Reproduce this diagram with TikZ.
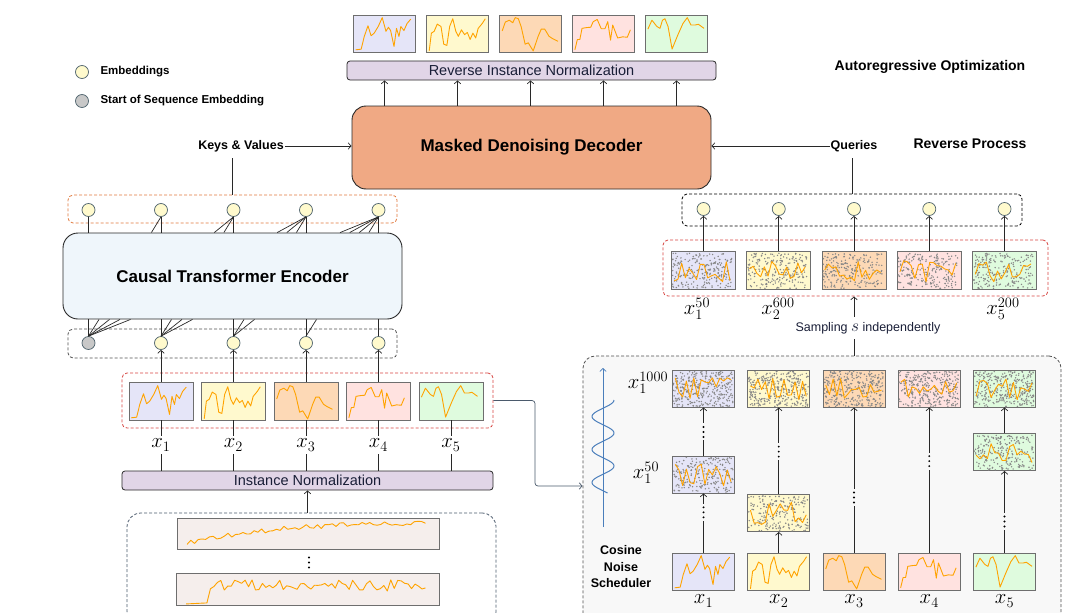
\documentclass[tikz,border=0pt]{standalone}
\usepackage{fontspec}
\setmainfont{Liberation Sans}
\usepackage{tikz}
\usetikzlibrary{arrows.meta, positioning, calc}
\usepackage{xcolor}
\definecolor{c1}{RGB}{229,229,248}
\definecolor{c2}{RGB}{255,249,206}
\definecolor{c3}{RGB}{253,217,182}
\definecolor{c4}{RGB}{255,226,224}
\definecolor{c5}{RGB}{223,251,222}
\definecolor{colarancio}{RGB}{255,163,0}
\definecolor{colarancioscuro}{RGB}{224,120,60}
\definecolor{colsalmone}{RGB}{240,169,132}
\definecolor{colcielo}{RGB}{239,246,251}
\definecolor{collilla}{RGB}{225,213,231}
\definecolor{colcrema}{RGB}{255,250,205}
\definecolor{colgrigio}{RGB}{200,200,200}
\definecolor{collinea}{RGB}{40,40,40}
\definecolor{colbordo}{RGB}{110,110,110}
\definecolor{colbordoemb}{RGB}{80,100,110}
\definecolor{colrosso}{RGB}{214,69,65}
\definecolor{colbluscuro}{RGB}{75,90,108}
\definecolor{colgrigioscuro}{RGB}{80,80,80}
\definecolor{colsfondo}{RGB}{248,248,248}
\definecolor{colblu}{RGB}{74,126,187}
\definecolor{colrosa}{RGB}{245,238,236}
\definecolor{colpunti}{RGB}{135,135,135}
\definecolor{coltesto}{RGB}{25,30,55}
% Serie (coordinate normalizzate 0..10)
\newcommand{\serieA}{(0.42,0.7) (1.3,0.87) (1.8,4.3) (2.4,7.2) (2.9,4.5) (3.4,5.2) (4.05,7.0) (4.7,9.4) (5.3,5.7) (5.7,6.8) (6.05,5.9) (6.6,1.6) (7.0,6.5) (7.4,4.3) (7.7,7.0) (8.2,5.9) (8.7,7.8) (9.3,9.0)}
\newcommand{\serieB}{(0.5,0.4) (0.85,5.2) (1.3,5.7) (1.8,7.65) (2.4,7.0) (2.85,2.2) (3.35,1.9) (3.8,7.0) (4.3,9.1) (4.8,5.65) (5.2,4.35) (5.7,6.1) (6.2,4.8) (6.65,5.4) (7.1,3.5) (7.55,5.2) (8.0,3.9) (8.4,6.5) (9.05,7.8) (9.55,9.1)}
\newcommand{\serieC}{(0.5,5.8) (1.0,8.2) (1.65,8.7) (2.2,8.0) (2.6,9.4) (3.1,9.1) (3.55,7.0) (4.2,2.2) (4.7,2.6) (5.5,0.4) (6.3,4.35) (6.8,6.3) (7.35,6.3) (8.05,4.35) (8.7,3.65) (9.5,3.0)}
\newcommand{\serieD}{(0.45,0.7) (0.85,3.5) (1.25,3.5) (1.6,6.5) (2.3,6.7) (3.0,6.8) (3.4,8.3) (4.05,8.9) (4.7,6.4) (5.3,6.4) (5.75,8.3) (6.2,3.3) (6.55,7.4) (7.35,3.9) (8.15,4.2) (8.9,4.1) (9.4,6.1)}
\newcommand{\serieE}{(0.45,6.3) (1.1,8.7) (1.9,7.0) (2.4,6.5) (2.8,8.7) (3.2,9.1) (3.7,7.0) (4.35,0.9) (5.3,4.8) (6.1,7.8) (6.8,9.4) (7.4,7.4) (8.05,7.4) (8.6,7.6) (9.5,6.5)}
\newcommand{\tsline}[2]{%
    \begin{scope}[shift={(#1.south west)}, x=6.2pt, y=3.7pt]
        \edef\tmpserie{\noexpand\draw[serie] plot coordinates {\csname serie#2\endcsname};}%
        \tmpserie
    \end{scope}}
\newcommand{\rumore}[2]{%
    \begin{scope}[shift={(#1.south west)}, x=6.2pt, y=3.7pt]
        \foreach \k in {1,...,#2}{
            \fill[colpunti] ({0.2+9.6*rnd},{0.25+9.5*rnd}) circle[radius=0.8pt];
        }
    \end{scope}}
\newcommand{\rumline}[1]{%
    \begin{scope}[shift={(#1.south west)}, x=6.2pt, y=3.7pt]
        \draw[serie] plot[samples=16, domain=0.5:9.5] (\x,{2+6*rnd});
    \end{scope}}

\begin{document}
\begin{tikzpicture}[x=1pt, y=-1pt,
    every node/.style={inner sep=0pt},
    box/.style={draw=colbordo, line width=0.8pt, minimum width=62pt, minimum height=37pt},
    emb/.style={circle, draw=colbordoemb, fill=colcrema, line width=0.7pt, minimum size=13pt},
    sos/.style={emb, fill=colgrigio},
    gruppo/.style={draw, dash pattern=on 3pt off 2pt, rounded corners=5pt, line width=0.8pt},
    barra/.style={draw=collinea, fill=collilla, rounded corners=3pt, line width=0.8pt, text=coltesto, font=\fontsize{14.5}{16}\selectfont},
    blocco/.style={draw=collinea, line width=0.9pt, font=\fontsize{17}{20}\selectfont\bfseries},
    filo/.style={draw=collinea, line width=0.7pt},
    freccia/.style={filo, -{Straight Barb[length=3pt, width=6.5pt]}},
    serie/.style={draw=colarancio, line width=0.9pt, line join=round},
    lab/.style={font=\fontsize{20}{24}\selectfont, inner ysep=3pt},
    testob/.style={font=\fontsize{12.5}{14}\selectfont\bfseries},
    titolo/.style={font=\fontsize{14}{16}\selectfont\bfseries},
    puntini/.style={minimum width=5pt, minimum height=17pt, fill=colsfondo,
        path picture={\foreach \d in {-5,0,5}{\fill[black] (path picture bounding box.center) ++(0,\d) circle[radius=1.1pt];}}}
]
    \pgfmathsetseed{42}
    \useasboundingbox (0,0) rectangle (1079,613);
    % Legenda
    \node[emb] (le) at (82,72) {};
    \node[right=11.5pt of le, font=\fontsize{11.5}{13}\selectfont\bfseries] (lte) {Embeddings};
    \node[sos] (ls) at (82,101) {};
    \node[right=11.5pt of ls, font=\fontsize{11.5}{13}\selectfont\bfseries] (lts) {Start of Sequence Embedding};
    % Decoder
    \node[blocco, fill=colsalmone, rounded corners=14pt, minimum width=359pt, minimum height=83pt] (dec) at (531.5,147.5) {Masked Denoising Decoder};
    \node[barra, minimum width=369pt, minimum height=19pt] (rin) at (531.5,70.5) {Reverse Instance Normalization};
    \foreach \i/\s in {1/A,2/B,3/C,4/D,5/E}{
        \pgfmathsetmacro{\xo}{384.5+73*(\i-1)}
        \node[box, fill=c\i] (o\i) at (\xo,33.5) {};
        \tsline{o\i}{\s}
        \draw[freccia] (o\i.south |- dec.north) -- (o\i.south |- rin.south);
    }
    \node[testob, inner xsep=1pt, inner ysep=6pt] (kv) at (241,146) {Keys \& Values};
    \draw[freccia] (kv.east) -- (kv.east -| dec.west);
    \node[testob, inner xsep=1pt, inner ysep=6pt] (qr) at (854,146) {Queries};
    \draw[freccia] (qr.west) -- (qr.west -| dec.east);
    % Titoli
    \node[titolo] (ao) at (930,67) {Autoregressive Optimization};
    \node[titolo] (rp) at (970,144) {Reverse Process};
    % Encoder
    \node[gruppo, draw=colarancioscuro, minimum width=329pt, minimum height=28pt] (eout) at (232.5,209) {};
    \node[blocco, fill=colcielo, rounded corners=15pt, minimum width=339pt, minimum height=86pt] (enc) at (232.5,276) {Causal Transformer Encoder};
    \node[gruppo, draw=colgrigioscuro, minimum width=329pt, minimum height=29pt] (ein) at (232.5,343.5) {};
    \draw[filo] (eout.north) -- (eout.north |- kv.south);
    \foreach \i in {1,...,5}{
        \pgfmathsetmacro{\xc}{88.5+72.5*(\i-1)}
        \node[emb] (t\i) at (\xc,210) {};
        \draw[filo] (t\i.south) -- (t\i.south |- enc.north);
        \ifnum\i>1
            \foreach \k in {2,...,\i}{
                \draw[filo] (t\i.south) -- ($(t\i.south |- enc.north)+({-9.6*(\k-1)},0)$);
            }
        \fi
    }
    \node[sos] (b0) at (88.5,343) {};
    \foreach \j in {1,...,4}{
        \pgfmathsetmacro{\xc}{88.5+72.5*\j}
        \node[emb] (b\j) at (\xc,343) {};
    }
    \foreach \j in {0,...,4}{
        \draw[filo] (b\j.north) -- (b\j.north |- enc.south);
        \ifnum\j<4
            \foreach \k in {\j,...,3}{
                \draw[filo] (b\j.north) -- ($(b\j.north |- enc.south)+({10.5*(\k-\j+1)},0)$);
            }
        \fi
    }
    % Serie in ingresso
    \node[gruppo, draw=colrosso, minimum width=371pt, minimum height=55pt] (xrow) at (307.5,400.5) {};
    \node[barra, minimum width=371pt, minimum height=19pt] (norm) at (307.5,480.5) {Instance Normalization};
    \foreach \i/\s in {1/A,2/B,3/C,4/D,5/E}{
        \pgfmathsetmacro{\xc}{88.5+72.5*\i}
        \node[box, fill=c\i, minimum width=64pt, minimum height=38pt] (x\i) at (\xc,401) {};
        \tsline{x\i}{\s}
        \node[lab] (lx\i) at (\xc,445) {$x_{\i}$};
        \draw[filo] (x\i.south) -- (lx\i.north);
        \draw[filo] (lx\i.south) -- (lx\i.south |- norm.north);
    }
    \foreach \j in {1,...,4}{
        \draw[freccia] (x\j.north) -- (x\j.north |- b\j.south);
    }
    % Ingresso
    \node[gruppo, draw=colbluscuro, rounded corners=14pt, minimum width=369pt, minimum height=112pt] (inbox) at (311.5,569) {};
    \draw[freccia] (norm.south |- inbox.north) -- (norm.south);
    \node[draw=colbordo, fill=colrosa, line width=0.8pt, minimum width=262pt, minimum height=31pt] (la) at (308,533.5) {};
    \node[draw=colbordo, fill=colrosa, line width=0.8pt, minimum width=263pt, minimum height=32pt] (lb) at (307.5,589) {};
    \node[puntini, fill=none] (ld) at (309,562.5) {};
    \begin{scope}[shift={(la.south west)}, x=26.2pt, y=3.1pt]
        \draw[serie] plot[samples=65, domain=0.4:9.5] (\x,{0.2+8*(1-exp(-0.3*\x))+1.6*rnd});
    \end{scope}
    \begin{scope}[shift={(lb.south west)}, x=26.3pt, y=3.2pt]
        \draw[serie] plot[samples=70, domain=0.4:9.5] (\x,{\x<1.3 ? 0.3+0.4*\x : 4.5+3.5*rnd});
    \end{scope}
    % Processo inverso
    \node[gruppo, draw=black, minimum width=340pt, minimum height=32pt] (dout) at (852,210) {};
    \draw[filo] (dout.north) -- (dout.north |- qr.south);
    \node[gruppo, draw=colrosso, minimum width=385pt, minimum height=56pt] (srow) at (855.5,268) {};
    \foreach \i in {1,...,5}{
        \pgfmathsetmacro{\xc}{703.5+75.25*(\i-1)}
        \node[emb] (d\i) at (\xc,209) {};
        \node[box, fill=c\i, minimum width=64pt, minimum height=38pt] (n\i) at (\xc,270) {};
        \rumore{n\i}{220}
        \rumline{n\i}
        \draw[freccia] (n\i.north) -- (d\i.south);
    }
    \node[lab] (s1) at (697,309) {$x_1^{50}$};
    \node[lab] (s2) at (778,309) {$x_2^{600}$};
    \node[lab] (s5) at (1003,309) {$x_5^{200}$};
    \node[font=\fontsize{12.5}{14}\selectfont, text=coltesto, inner ysep=5pt] (sm) at (868,328) {Sampling {\fontsize{16}{16}\selectfont$s$} independently};
    \draw[freccia] (sm.north -| n3.south) -- (srow.south -| n3.south);
    % Rumore
    \node[gruppo, draw=colgrigioscuro, fill=colsfondo, rounded corners=12pt, minimum width=478pt, minimum height=284pt] (nbox) at (822,498) {};
    \draw[filo] (nbox.north -| n3.south) -- (sm.south -| n3.south);
    \coordinate (piega) at (535,486);
    \draw[freccia, draw=colbluscuro, rounded corners=3pt] (xrow.east) -| (piega) -- (piega -| nbox.west);
    \foreach \i/\s in {1/A,2/B,3/C,4/D,5/E}{
        \pgfmathsetmacro{\xc}{703.5+75.25*(\i-1)}
        \node[box, fill=c\i] (r\i) at (\xc,571.5) {};
        \tsline{r\i}{\s}
        \node[box, fill=c\i] (q\i) at (\xc,388.5) {};
        \rumore{q\i}{320}
        \rumline{q\i}
        \node[lab] (lr\i) at (\xc,601) {$x_{\i}$};
    }
    \node[box, fill=c1] (m1) at (703.5,474.5) {};
    \rumore{m1}{220}
    \rumline{m1}
    \node[box, fill=c2] (m2) at (778.75,513) {};
    \rumore{m2}{200}
    \rumline{m2}
    \node[box, fill=c5] (m5) at (1004.5,452) {};
    \rumore{m5}{220}
    \rumline{m5}
    \draw[freccia] (r1.north) -- (m1.south) node[puntini, pos=0.68] {};
    \draw[freccia] (m1.north) -- (q1.south) node[puntini, pos=0.49] {};
    \draw[freccia] (r2.north) -- (m2.south);
    \draw[freccia] (m2.north) -- (q2.south) node[puntini, pos=0.49] {};
    \draw[freccia] (r3.north) -- (q3.south) node[puntini, pos=0.38] {};
    \draw[freccia] (r4.north) -- (q4.south) node[puntini, pos=0.63] {};
    \draw[freccia] (r5.north) -- (m5.south) node[puntini, pos=0.38] {};
    \draw[freccia] (m5.north) -- (q5.south);
    \node[lab] (s1k) at (648,383) {$x_1^{1000}$};
    \node[lab] (s1c) at (646,473) {$x_1^{50}$};
    % Scheduler
    \node[align=center, font=\fontsize{12.5}{16.5}\selectfont\bfseries] (cns) at (621,567) {Cosine\\Noise\\Scheduler};
    \coordinate (sa) at (603,527);
    \coordinate (sb) at (603,368);
    \draw[freccia, draw=colblu] (sa) -- (sb);
    \draw[colblu, line width=1pt] plot[variable=\t, domain=0:93, samples=90] ({603+11*cos(10.909*\t)},{400+\t});
\end{tikzpicture}
\end{document}
